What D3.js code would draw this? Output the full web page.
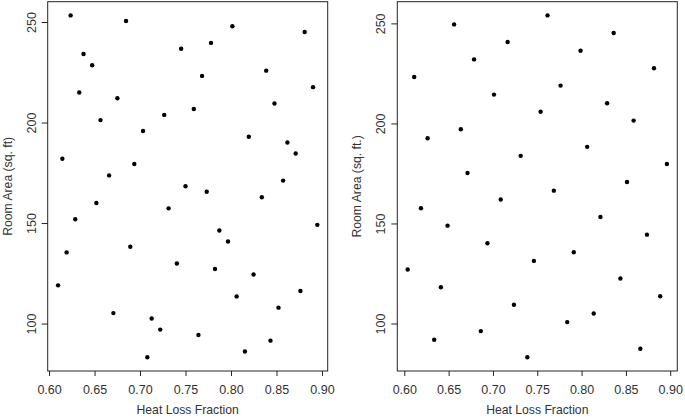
<!DOCTYPE html>
<html>
<head>
<meta charset="utf-8">
<script src="https://cdn.jsdelivr.net/npm/d3@7"></script>
<style>
  html, body { margin: 0; padding: 0; background: #fff; }
  svg { display: block; }
</style>
</head>
<body>
<div id="chart"></div>
<script>
// Two scatter panels: heat loss fraction vs room area

// left panel (50 rooms)
const leftHeatLoss = [
  0.6237, 0.6846, 0.8015, 0.881, 0.7452, 0.778, 0.6379, 0.6474, 0.7682, 0.8387,
  0.6332, 0.8902, 0.6751, 0.8478, 0.7591, 0.6565, 0.7266, 0.7033, 0.8196, 0.862,
  0.6146, 0.8711, 0.6937, 0.666, 0.8573, 0.75, 0.7733, 0.8339, 0.652, 0.7314,
  0.6288, 0.6193, 0.8949, 0.7872, 0.7967, 0.6893, 0.7405, 0.7824, 0.8248, 0.6099,
  0.8763, 0.8062, 0.6707, 0.8522, 0.7128, 0.7222, 0.7642, 0.8434, 0.8153, 0.708,
];
const leftRoomArea = [
  253.3, 250.5, 247.9, 245.0, 236.7, 239.6, 234.1, 228.5, 223.2, 225.8,
  214.9, 217.6, 212.1, 209.5, 206.7, 201.2, 203.8, 195.8, 192.9, 190.1,
  182.0, 184.6, 179.4, 173.7, 171.1, 168.3, 165.6, 162.8, 160.0, 157.3,
  151.9, 135.4, 149.1, 146.3, 140.8, 138.2, 129.9, 127.1, 124.4, 119.0,
  116.2, 113.5, 105.2, 107.9, 102.5, 97.0, 94.3, 91.5, 86.1, 83.2,
];

// right panel (40 rooms)
const rightHeatLoss = [
  0.6112, 0.6562, 0.7616, 0.7166, 0.6787, 0.7988, 0.8362, 0.8817, 0.7012, 0.7763,
  0.8288, 0.7538, 0.8587, 0.6638, 0.6263, 0.8063, 0.7313, 0.8963, 0.6713, 0.8513,
  0.7687, 0.7088, 0.6188, 0.8213, 0.6488, 0.8738, 0.6938, 0.7912, 0.7462, 0.6038,
  0.8438, 0.6413, 0.8887, 0.7237, 0.8137, 0.7838, 0.6863, 0.6337, 0.8663, 0.7388,
];
const rightRoomArea = [
  223.2, 249.5, 254.0, 240.7, 232.0, 236.3, 245.2, 227.6, 214.4, 218.9,
  210.1, 205.8, 201.4, 197.1, 192.6, 188.3, 183.8, 179.7, 175.2, 170.7,
  166.4, 162.0, 157.6, 153.2, 148.9, 144.4, 140.1, 135.6, 131.3, 127.0,
  122.5, 118.1, 113.6, 109.4, 105.0, 100.7, 96.2, 91.9, 87.4, 83.1,
];

const xTicks = [0.6, 0.65, 0.7, 0.75, 0.8, 0.85, 0.9];
const yTicks = [100, 150, 200, 250];
const xTitle = "Heat Loss Fraction";
const yTitles = ["Room Area (sq. ft)", "Room Area (sq. ft.)"];

const width = 685;
const height = 420;
const fontFamily = "'Liberation Sans', Arial, Helvetica, sans-serif";
const textColour = "#333";
const lineColour = "#222";

const svg = d3
  .select("#chart")
  .append("svg")
  .attr("width", width)
  .attr("height", height);

// R-style 4% padding on the data range
const padExtent = function (values) {
  const [lo, hi] = d3.extent(values);
  const pad = (hi - lo) * 0.04;
  return [lo - pad, hi + pad];
};

const panels = [
  { left: 47.7, xs: leftHeatLoss, ys: leftRoomArea, yTitle: yTitles[0] },
  { left: 397.3, xs: rightHeatLoss, ys: rightRoomArea, yTitle: yTitles[1] },
];

const boxTop = 1.7;
const boxWidth = 280;
const boxHeight = 369.3;

panels.forEach(function (p) {
  const g = svg.append("g").attr("transform", `translate(${p.left},${boxTop})`);

  const x = d3.scaleLinear().domain(padExtent(p.xs)).range([0, boxWidth]);
  const y = d3.scaleLinear().domain(padExtent(p.ys)).range([boxHeight, 0]);

  // x axis
  const xAxis = g
    .append("g")
    .attr("transform", `translate(0,${boxHeight})`)
    .call(
      d3.axisBottom(x).tickValues(xTicks).tickFormat(d3.format(".2f")).tickSize(5).tickSizeOuter(0)
    );
  xAxis.select(".domain").remove();
  xAxis.selectAll("line").attr("stroke", lineColour);
  xAxis
    .selectAll("text")
    .attr("y", 14)
    .attr("dy", "0.71em")
    .style("font-family", fontFamily)
    .style("font-size", "12.5px")
    .attr("fill", textColour);

  // y axis, labels turned like R does
  const yAxis = g
    .append("g")
    .call(d3.axisLeft(y).tickValues(yTicks).tickSize(6).tickSizeOuter(0));
  yAxis.select(".domain").remove();
  yAxis.selectAll("line").attr("stroke", lineColour);
  yAxis
    .selectAll("text")
    .attr("x", 0)
    .attr("y", -12)
    .attr("dy", 0)
    .attr("transform", "rotate(-90)")
    .attr("text-anchor", "middle")
    .style("font-family", fontFamily)
    .style("font-size", "12.5px")
    .attr("fill", textColour);

  // box
  g.append("rect")
    .attr("x", 0)
    .attr("y", 0)
    .attr("width", boxWidth)
    .attr("height", boxHeight)
    .attr("fill", "none")
    .attr("stroke", lineColour)
    .attr("stroke-width", 1);

  // points
  g.selectAll("circle")
    .data(d3.zip(p.xs, p.ys))
    .enter()
    .append("circle")
    .attr("cx", (d) => x(d[0]))
    .attr("cy", (d) => y(d[1]))
    .attr("r", 2.2)
    .attr("fill", "#000");

  // titles
  g.append("text")
    .attr("x", boxWidth / 2)
    .attr("y", boxHeight + 43.5)
    .attr("text-anchor", "middle")
    .style("font-family", fontFamily)
    .style("font-size", "12.2px")
    .attr("fill", textColour)
    .text(xTitle);

  g.append("text")
    .attr("transform", `translate(-36,${boxHeight / 2}) rotate(-90)`)
    .attr("text-anchor", "middle")
    .style("font-family", fontFamily)
    .style("font-size", "12.2px")
    .attr("fill", textColour)
    .text(p.yTitle);
});
</script>
</body>
</html>
